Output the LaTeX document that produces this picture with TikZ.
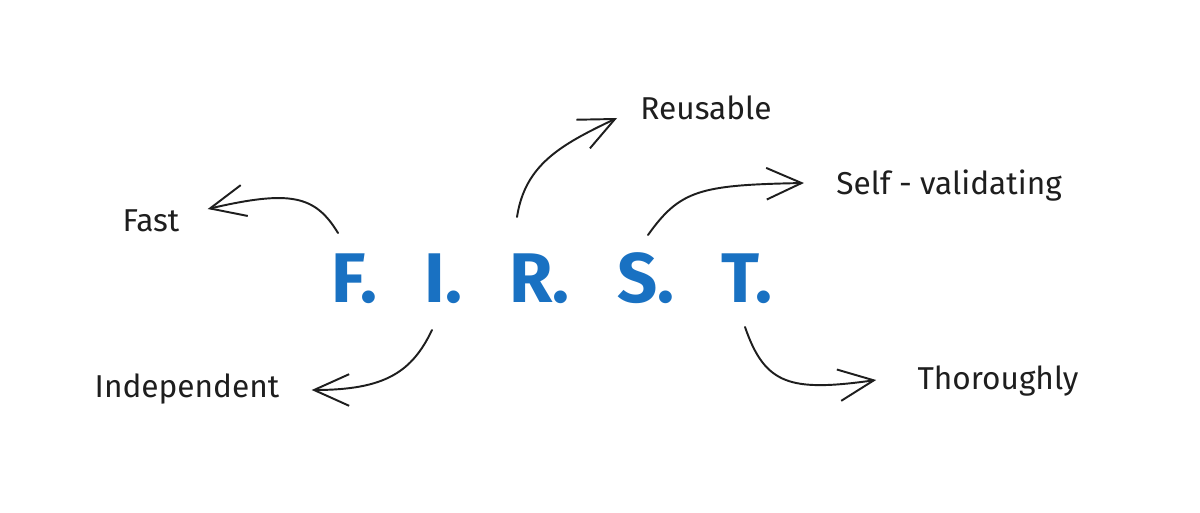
\documentclass[tikz,border=0pt]{standalone}
\usepackage{fontspec}
\setmainfont{Fira Sans}
\usetikzlibrary{arrows.meta}

\definecolor{ink}{HTML}{1E1E1E}
\definecolor{firstblue}{HTML}{1971C2}

\newcommand{\gap}{\hspace{27pt}}

\tikzset{
  lbl/.style={text=ink, font=\fontsize{18}{21}\selectfont, inner sep=0pt},
  arr/.style={draw=ink, line width=1.1pt, line cap=round,
    -{Straight Barb[length=20pt, width=18pt, line width=1.1pt]}}
}

\begin{document}
\begin{tikzpicture}[x=0.02cm, y=-0.02cm]
      \useasboundingbox[fill=white] (0,0) rectangle (1200,513);
      % centre word
      \node[text=firstblue, font=\fontsize{40}{46}\selectfont\bfseries] (first) at (552,278) {F.\gap I.\gap R.\gap S.\gap T.};
      % the five labels
      \node[lbl] (fast) at (151,221) {Fast};
      \node[lbl] (indep) at (187,389) {Independent};
      \node[lbl] (reuse) at (706,108) {Reusable};
      \node[lbl] (selfv) at (949,186) {Self - validating};
      \node[lbl] (thor) at (998,381) {Thoroughly};
      % where the arrows leave the word
      \coordinate (sf) at (338,233);
      \coordinate (si) at (432,330);
      \coordinate (sr) at (517,217);
      \coordinate (ss) at (648,235);
      \coordinate (st) at (745,327);
      \draw[arr] (sf) .. controls (315,195) and (290,190) .. ([shift={(28,-12)}]fast.east);
      \draw[arr] (si) .. controls (412,372) and (385,390) .. ([shift={(32,1)}]indep.east);
      \draw[arr] (sr) .. controls (525,165) and (560,145) .. ([shift={(-23,10)}]reuse.west);
      \draw[arr] (ss) .. controls (680,190) and (700,185) .. ([shift={(-32,-3)}]selfv.west);
      \draw[arr] (st) .. controls (765,385) and (790,392) .. ([shift={(-41,-1)}]thor.west);
\end{tikzpicture}
\end{document}
